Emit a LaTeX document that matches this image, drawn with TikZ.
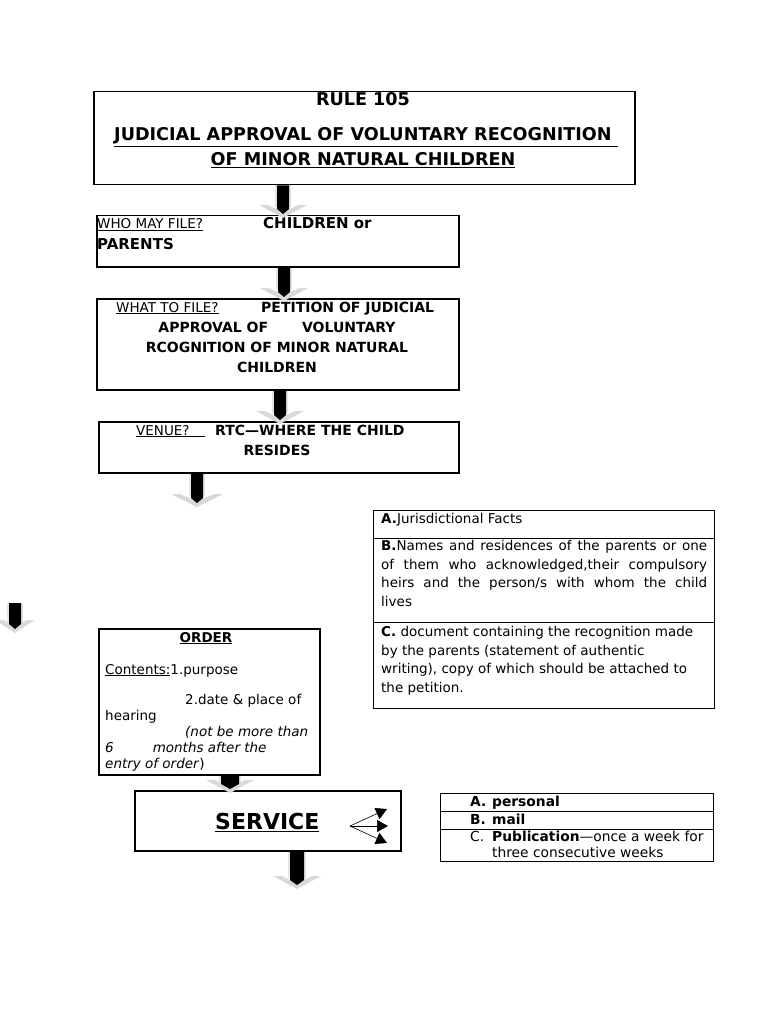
\documentclass[tikz,border=0pt]{standalone}
\usepackage{fontspec}
\setmainfont{DejaVu Sans}
\usetikzlibrary{positioning,calc,arrows.meta}

\newcommand{\fsz}[2]{\fontsize{#1}{#2}\selectfont}

\tikzset{
  box/.style={draw, line width=1.5pt, fill=white, inner sep=0pt, anchor=north west},
  cell/.style={draw, line width=0.9pt, inner sep=0pt, anchor=north west},
  lbl/.style={inner sep=0pt, anchor=base west},
  clbl/.style={inner sep=0pt, anchor=base},
}

% block arrow: top point, bottom point, half shaft, half head
\newcommand{\dnarrow}[4]{%
  \fill[gray!30] let \p1=(#1), \p2=(#2) in
    (\x1-#4,\y2+10pt) -- (\x1+#4,\y2+10pt) -- (\x1,\y2-3pt) -- cycle;
  \fill[white] let \p1=(#1), \p2=(#2) in
    (\x1-#4+9pt,\y2+10pt) -- (\x1+#4-9pt,\y2+10pt) -- (\x1,\y2+3pt) -- cycle;
  \fill[gray!20] let \p1=(#1), \p2=(#2) in
    (\x1-#3-2pt,\y1) rectangle (\x1+#3+2pt,\y2+8pt);
  \fill[black] let \p1=(#1), \p2=(#2) in
    (\x1-#3,\y1) -- (\x1+#3,\y1) -- (\x1+#3,\y2+6pt) -- (\x1,\y2+1pt) -- (\x1-#3,\y2+6pt) -- cycle;
}

\begin{document}
\begin{tikzpicture}[x=1pt, y=-1pt]
\useasboundingbox (0,0) rectangle (768,1024);

% main boxes
\node[box, minimum width=541pt, minimum height=93pt]  (rule)    at (93,91)  {};
\node[box, minimum width=362pt, minimum height=51pt]  (who)     at (96,215) {};
\node[box, minimum width=362pt, minimum height=91pt]  (what)    at (96,298) {};
\node[box, minimum width=360pt, minimum height=51pt]  (venue)   at (98,421) {};
\node[box, minimum width=221pt, minimum height=146pt] (order)   at (98,628) {};
\node[box, minimum width=266pt, minimum height=60pt]  (service) at (134,790) {};

% contents of the petition
\node[cell, minimum width=341pt, minimum height=28pt] (factA) at (373,510) {};
\node[cell, minimum width=341pt, minimum height=84pt] (factB) at (373,538) {};
\node[cell, minimum width=341pt, minimum height=86pt] (factC) at (373,622) {};

% modes of service
\node[cell, minimum width=273pt, minimum height=18pt] (servA) at (440,793) {};
\node[cell, minimum width=273pt, minimum height=18pt] (servB) at (440,811) {};
\node[cell, minimum width=273pt, minimum height=32pt] (servC) at (440,829) {};

% title
\node[clbl, font=\bfseries\fsz{17.6}{20}] (ruleno)    at (363,106) {RULE 105};
\node[clbl, font=\bfseries\fsz{17.6}{20}] (rulename)  at (366,141) {\underline{JUDICIAL APPROVAL OF VOLUNTARY RECOGNITION\ }};
\node[clbl, font=\bfseries\fsz{17.6}{20}] (rulename2) at (363,166) {\underline{OF MINOR NATURAL CHILDREN}};

% who may file
\node[lbl, font=\fsz{13.5}{14}]          (whoq) at (97,229)  {\underline{WHO MAY FILE?}};
\node[lbl, font=\bfseries\fsz{15}{18}]   (whoa) at (263,229) {CHILDREN or};
\node[lbl, font=\bfseries\fsz{15}{18}]   (whob) at (97,249)  {PARENTS};

% what to file
\node[lbl, font=\fsz{13.5}{14}]          (whatq) at (116,312) {\underline{WHAT TO FILE?}};
\node[lbl, font=\bfseries\fsz{14}{20}]   (whata) at (261,312) {PETITION OF JUDICIAL};
\node[clbl, font=\bfseries\fsz{14}{20}, align=center] (whatb) at (277,372)
  {APPROVAL OF\hspace{34pt}VOLUNTARY\\RCOGNITION OF MINOR NATURAL\\CHILDREN};

% venue
\node[lbl, font=\fsz{13.5}{14}]          (venueq) at (136,435) {\underline{VENUE?\hspace{15pt}}};
\node[lbl, font=\bfseries\fsz{14}{20}]   (venuea) at (215,435) {RTC—WHERE THE CHILD};
\node[clbl, font=\bfseries\fsz{14}{20}]  (venueb) at (277,455) {RESIDES};

% facts
\node[lbl, font=\fsz{13.5}{18.5}] (factAtxt) at (381,523) {\textbf{A.}Jurisdictional Facts};
\node[lbl, font=\fsz{13.5}{18.5}, align=left] (factBtxt) at (381,606)
  {\makebox[326pt][s]{\textbf{B.}Names and residences of the parents or one}\\
   \makebox[326pt][s]{of them who acknowledged,their compulsory}\\
   \makebox[326pt][s]{heirs and the person/s with whom the child}\\
   lives};
\node[lbl, font=\fsz{13.5}{18.5}, align=left] (factCtxt) at (381,692)
  {\textbf{C.} document containing the recognition made\\
   by the parents (statement of authentic\\
   writing), copy of which should be attached to\\
   the petition.};

% order
\node[clbl, font=\bfseries\fsz{13.5}{16}] (ordertitle) at (206,642) {\underline{ORDER}};
\node[lbl, font=\fsz{13.5}{16}] (orderc) at (105,674) {\underline{Contents:}1.purpose};
\node[lbl, font=\fsz{13.5}{16}, align=left] (orderd) at (105,768)
  {\hspace*{80pt}2.date \& place of\\
   hearing\\
   \hspace*{80pt}\textit{(not be more than}\\
   \textit{6\hspace*{39pt}months after the}\\
   \textit{entry of order})};

% service
\node[lbl, font=\bfseries\fsz{22}{26}] (servicetxt) at (215,829) {\underline{SERVICE}};
\coordinate (fan)  at (350,826);
\coordinate (fanA) at (387,809);
\coordinate (fanB) at (388,826);
\coordinate (fanC) at (387,843);
\foreach \tip in {fanA,fanB,fanC}
  \draw[line width=0.6pt, -{Triangle[length=11pt,width=12pt]}] (fan) -- (\tip);

\node[lbl, font=\bfseries\fsz{13.8}{16}] (servAtxt) at (470,806) {\makebox[22pt][l]{A.}personal};
\node[lbl, font=\bfseries\fsz{13.8}{16}] (servBtxt) at (470,824) {\makebox[22pt][l]{B.}mail};
\node[lbl, font=\fsz{13.8}{16}, align=left] (servCtxt) at (470,857)
  {\makebox[22pt][l]{C.}\textbf{Publication}—once a week for\\
   \hspace*{22pt}three consecutive weeks};

% block arrows
\coordinate (ax1) at (283,0);
\coordinate (ax2) at (284,0);
\coordinate (ax3) at (280,0);
\coordinate (ax6) at (230,0);
\coordinate (venueend)   at (197,504);
\coordinate (strayfrom)  at (15,603);
\coordinate (strayend)   at (15,630);
\coordinate (serviceend) at (297,886);
\dnarrow{ax1 |- rule.south}{ax1 |- who.north}{6pt}{24pt}
\dnarrow{ax2 |- who.south}{ax2 |- what.north}{6pt}{24pt}
\dnarrow{ax3 |- what.south}{ax3 |- venue.north}{6pt}{24pt}
\dnarrow{venueend |- venue.south}{venueend}{6pt}{26pt}
\dnarrow{strayfrom}{strayend}{6pt}{20pt}
\dnarrow{ax6 |- order.south}{ax6 |- service.north}{9pt}{24pt}
\dnarrow{serviceend |- service.south}{serviceend}{7pt}{24pt}
\end{tikzpicture}
\end{document}
